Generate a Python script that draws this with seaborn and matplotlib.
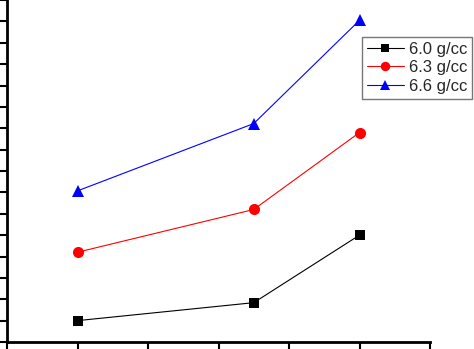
import matplotlib
matplotlib.use("Agg")
import matplotlib.pyplot as plt
import seaborn as sns
import pandas as pd

sns.set_theme(style="white")
plt.rcParams["font.family"] = ["Liberation Sans", "DejaVu Sans"]

# Measured series for three densities
x_values = [1.0, 3.5, 5.0]
series_labels = ["6.0 g/cc", "6.3 g/cc", "6.6 g/cc"]
density_60 = [1.0, 1.84, 5.0]
density_63 = [4.2, 6.2, 9.8]
density_66 = [7.07, 10.22, 15.05]

df = pd.DataFrame({
    "x": x_values * 3,
    "y": density_60 + density_63 + density_66,
    "series": [series_labels[0]] * 3 + [series_labels[1]] * 3 + [series_labels[2]] * 3,
})

fig = plt.figure(figsize=(4.74, 3.49), dpi=100)
W, H = 474, 349
ax = fig.add_axes([7 / W, 7 / H, (430 - 7) / W, 342 / H])

palette = {series_labels[0]: "#000000", series_labels[1]: "#ff0000", series_labels[2]: "#0000ff"}
markers = {series_labels[0]: "s", series_labels[1]: "o", series_labels[2]: "^"}
sizes = {series_labels[0]: 6.5, series_labels[1]: 8, series_labels[2]: 8.5}

sns.lineplot(data=df, x="x", y="y", hue="series", style="series",
             palette=palette, markers=markers, dashes=False,
             linewidth=0.8, markeredgewidth=0, ax=ax, legend=False)

# marker sizes per series
for line, lab in zip(ax.get_lines(), series_labels):
    line.set_markersize(sizes[lab])

ax.set_xlim(0, 6)
ax.set_ylim(0, 16)
ax.set_xticks(range(0, 7))
ax.set_yticks(range(0, 17))
ax.set_xticklabels([])
ax.set_yticklabels([])
ax.set_xlabel("")
ax.set_ylabel("")
ax.tick_params(axis="both", direction="out", length=6.5, width=1.5, color="black",
               bottom=True, left=True)
for side in ("top", "right"):
    ax.spines[side].set_visible(False)
for side in ("left", "bottom"):
    ax.spines[side].set_color("black")
    ax.spines[side].set_linewidth(2)
ax.patch.set_alpha(0)

# legend built from the drawn lines
handles = ax.get_lines()[:3]
leg = fig.legend(handles, series_labels, loc="upper left",
                 bbox_to_anchor=(362 / W, 1 - 37 / H), bbox_transform=fig.transFigure,
                 fontsize=12, frameon=True, fancybox=False, handlelength=2.2,
                 handletextpad=0.3, labelspacing=0.2, borderpad=0.3,
                 borderaxespad=0, markerscale=0.85)
leg.get_frame().set_edgecolor("#555555")
leg.get_frame().set_linewidth(1.0)

fig.savefig("out.png", dpi=100)
